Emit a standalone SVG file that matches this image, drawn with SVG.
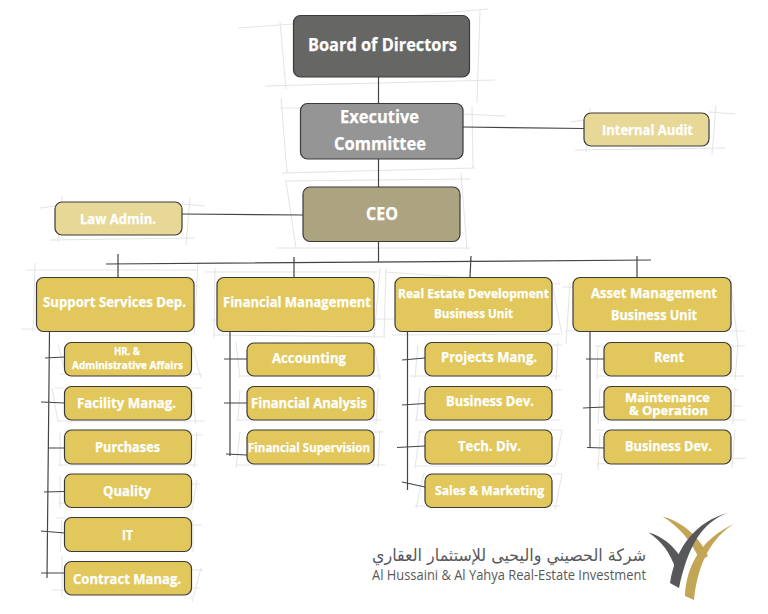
<svg xmlns="http://www.w3.org/2000/svg" width="768" height="614" viewBox="0 0 768 614">
<style>
text{font-family:"Open Sans","Noto Sans",sans-serif;font-weight:700;fill:#fff;stroke:#fff;stroke-width:.25;text-anchor:start}
.b{stroke:#3a3a3a;stroke-width:1.2}
.g{fill:#e2c85c}
.s{fill:none;stroke:#e4e4e4;stroke-width:1}
.c{fill:none;stroke:#444;stroke-width:1.2}
</style>
<rect width="768" height="614" fill="#fff"/>
<g id="sketch-lines" class="s">
<path d="M238 28L293 24M410 16L488 9M280 22L286 89M265 86L495 80M480 10L477 103"/>
<path d="M280 108H300M281 98L287 173M282 173L475 168M472 106L473 168M463 114L505 116"/>
<path d="M285 181L470 179M286 181L296 248M276 248H470M461 173L467 250"/>
<path d="M570 122L584 120M709 112L735 114M590 108L586 152M575 150L725 148M716 105L712 155"/>
<path d="M40 208L55 206M182 204L205 206M62 196L58 242M50 240L195 238M190 198L186 245"/>
<path d="M26 270H197M35 263L33 332M21 329H36M194 335L198 262"/>
<path d="M205 272H378M215 268L214 338M211 320H217M374 338L380 268M214 335L385 337"/>
<path d="M385 272L560 284M386 268L384 338M375 319H395M552 283L562 335M392 335L560 334"/>
<path d="M562 287H618M570 283L566 344M730 275L738 345M565 331H745"/>
<path d="M58 345L66 374M60 374H202M192 346L201 378"/>
<path d="M52 388L58 422M55 388H202M192 390L196 424M58 421H205"/>
<path d="M60 432V466M58 465H198M197 432L194 468M192 435H203"/>
<path d="M60 476V508M58 503H64M197 480L192 510M192 484H200"/>
<path d="M62 520L60 552M56 518H64M193 520V552M192 525H202"/>
<path d="M62 556V597M52 590H64M201 568L192 602M192 588H200M192 570H203"/>
<path d="M236 342L240 378M238 376H380M374 345L380 380"/>
<path d="M240 390L238 420M236 420H382M378 388L376 424"/>
<path d="M240 432L236 468M236 465H385M374 432H384M380 430L378 468"/>
<path d="M418 345L415 378M410 376H560M552 345H562M558 342L556 380"/>
<path d="M420 388L416 422M415 420H560M552 390H562"/>
<path d="M420 430L415 468M416 466H555M420 432L562 430M562 430L555 466"/>
<path d="M424 473L416 508M415 506H560M552 474L562 474L555 510"/>
<path d="M598 345L597 380M595 346H604M732 346H745M738 344L735 380M597 376H745"/>
<path d="M600 388L598 424M600 420H745M732 390H738M732 406H742M735 388L733 424"/>
<path d="M600 432L598 470M596 430H604M735 430L732 468M596 464L746 458"/>
</g>
<g id="connectors" class="c">
<path d="M378.500 77V103M378.500 159V187M378.500 241.500V262"/>
<path d="M463 127L584 128.500M182 214L303 215"/>
<path d="M106 264L651 260M118 254V277.500M294 257V277.500M471 256L470 277.500M637 256V277.500"/>
<path d="M49.500 331L47 578M45 358L64.500 357M41 402L64.500 403M48 448H64.500M44 492L64.500 491.500M41 531L64.500 533M41 573H64.500"/>
<path d="M230 331V456M224 359H247M224 403H247M226 454L247 455"/>
<path d="M407.500 331V490M402 360L425 358M402 405L425 403.500M397 447.500L425 446M402 482L425 487"/>
<path d="M590 331V447.500M586 359H604M583 408L604 407M587 447.500L604 448"/>
</g>
<g id="board"><rect class="b" x="293.500" y="15.500" width="176" height="61.500" rx="7" fill="#666665"/><text x="308" y="51" font-size="18.500" textLength="149" lengthAdjust="spacingAndGlyphs">Board of Directors</text></g>
<g id="executive"><rect class="b" x="300.500" y="103.500" width="162.500" height="55.500" rx="7" fill="#959595"/><text x="340" y="123" font-size="18" textLength="79" lengthAdjust="spacingAndGlyphs">Executive</text><text x="334" y="150" font-size="18" textLength="92" lengthAdjust="spacingAndGlyphs">Committee</text></g>
<g id="ceo"><rect class="b" x="303" y="187" width="157" height="54.500" rx="7" fill="#aca481"/><text x="366" y="220" font-size="17.500" textLength="32" lengthAdjust="spacingAndGlyphs">CEO</text></g>
<g id="internal-audit"><rect class="b" x="584" y="113" width="125" height="33" rx="7" fill="#e8d898"/><text x="602" y="135" font-size="14" textLength="91" lengthAdjust="spacingAndGlyphs">Internal Audit</text></g>
<g id="law-admin"><rect class="b" x="55" y="202" width="127" height="33" rx="7" fill="#e8d898"/><text x="80" y="224" font-size="14" textLength="76" lengthAdjust="spacingAndGlyphs">Law Admin.</text></g>

<g id="support"><rect class="b g" x="36.500" y="277.500" width="157.500" height="54" rx="7"/><text x="43" y="307" font-size="15" textLength="143" lengthAdjust="spacingAndGlyphs">Support Services Dep.</text></g>
<g id="financial"><rect class="b g" x="217" y="277.500" width="157" height="54" rx="7"/><text x="223" y="307" font-size="14.500" textLength="148" lengthAdjust="spacingAndGlyphs">Financial Management</text></g>
<g id="real-estate"><rect class="b g" x="395" y="277.500" width="157" height="54" rx="7"/><text x="398" y="298" font-size="13" textLength="151" lengthAdjust="spacingAndGlyphs">Real Estate Development</text><text x="434" y="318" font-size="13" textLength="79" lengthAdjust="spacingAndGlyphs">Business Unit</text></g>
<g id="asset"><rect class="b g" x="573" y="277.500" width="158" height="54" rx="7"/><text x="591" y="298" font-size="14" textLength="126" lengthAdjust="spacingAndGlyphs">Asset Management</text><text x="611" y="320" font-size="14" textLength="86" lengthAdjust="spacingAndGlyphs">Business Unit</text></g>

<g id="hr"><rect class="b g" x="64.500" y="342.500" width="127" height="33.500" rx="7"/><text x="114" y="355" font-size="10" textLength="26" lengthAdjust="spacingAndGlyphs">HR. &amp;</text><text x="72" y="369" font-size="10" textLength="111" lengthAdjust="spacingAndGlyphs">Administrative Affairs</text></g>
<g id="facility"><rect class="b g" x="64.500" y="386.500" width="127" height="33.500" rx="7"/><text x="77" y="408" font-size="14.500" textLength="99" lengthAdjust="spacingAndGlyphs">Facility Manag.</text></g>
<g id="purchases"><rect class="b g" x="64.500" y="430" width="127" height="34" rx="7"/><text x="95" y="452" font-size="14.500" textLength="65" lengthAdjust="spacingAndGlyphs">Purchases</text></g>
<g id="quality"><rect class="b g" x="64.500" y="474" width="127" height="33.500" rx="7"/><text x="103" y="496" font-size="14.500" textLength="48" lengthAdjust="spacingAndGlyphs">Quality</text></g>
<g id="it"><rect class="b g" x="64.500" y="517.500" width="127" height="34" rx="7"/><text x="122" y="540" font-size="14.500" textLength="11" lengthAdjust="spacingAndGlyphs">IT</text></g>
<g id="contract"><rect class="b g" x="64.500" y="561.500" width="127" height="33.500" rx="7"/><text x="73" y="584" font-size="14.500" textLength="108" lengthAdjust="spacingAndGlyphs">Contract Manag.</text></g>

<g id="accounting"><rect class="b g" x="247" y="343" width="127" height="33" rx="7"/><text x="272" y="363" font-size="14.500" textLength="74" lengthAdjust="spacingAndGlyphs">Accounting</text></g>
<g id="analysis"><rect class="b g" x="247" y="386.500" width="127" height="33.500" rx="7"/><text x="251" y="408" font-size="14" textLength="116" lengthAdjust="spacingAndGlyphs">Financial Analysis</text></g>
<g id="supervision"><rect class="b g" x="247" y="430" width="127" height="34" rx="7"/><text x="248" y="452" font-size="12.500" textLength="122" lengthAdjust="spacingAndGlyphs">Financial Supervision</text></g>

<g id="projects"><rect class="b g" x="425" y="342.500" width="127" height="33.500" rx="7"/><text x="441" y="362" font-size="14.500" textLength="96" lengthAdjust="spacingAndGlyphs">Projects Mang.</text></g>
<g id="re-business-dev"><rect class="b g" x="425" y="386.500" width="127" height="33.500" rx="7"/><text x="446" y="406" font-size="14.500" textLength="88" lengthAdjust="spacingAndGlyphs">Business Dev.</text></g>
<g id="tech"><rect class="b g" x="425" y="430" width="127" height="34" rx="7"/><text x="458" y="451" font-size="14.500" textLength="63" lengthAdjust="spacingAndGlyphs">Tech. Div.</text></g>
<g id="sales"><rect class="b g" x="425" y="474" width="127" height="33.500" rx="7"/><text x="435" y="495" font-size="13" textLength="109" lengthAdjust="spacingAndGlyphs">Sales &amp; Marketing</text></g>

<g id="rent"><rect class="b g" x="604" y="342.500" width="127" height="33.500" rx="7"/><text x="654" y="362" font-size="14.500" textLength="30" lengthAdjust="spacingAndGlyphs">Rent</text></g>
<g id="maintenance"><rect class="b g" x="604" y="386.500" width="127" height="33.500" rx="7"/><text x="625" y="402" font-size="13" textLength="85" lengthAdjust="spacingAndGlyphs">Maintenance</text><text x="629" y="414.500" font-size="13" textLength="79" lengthAdjust="spacingAndGlyphs">&amp; Operation</text></g>
<g id="asset-business-dev"><rect class="b g" x="604" y="430" width="127" height="34" rx="7"/><text x="625" y="451" font-size="14.500" textLength="87" lengthAdjust="spacingAndGlyphs">Business Dev.</text></g>

<g id="logo">
<path d="M662.500 516.500C680 521 698 534 708 556L700 561C692 541 678 526 662.500 516.500Z" fill="#c3a655"/>
<path d="M734 524C714 536 698 560 694 600L685 596C686 566 702 538 734 524Z" fill="#c3a655"/>
<path d="M728.500 512.500C702 522 688 546 679 588L670 583C676 546 696 522 728.500 512.500Z" fill="#58585a"/>
<path d="M648.500 532.500C662 536 674 546 681 558L676 570C670 552 662 542 648.500 532.500Z" fill="#58585a"/>
<text x="646" y="561" font-size="17" direction="rtl" textLength="274" lengthAdjust="spacingAndGlyphs" style="font-family:'DejaVu Sans',sans-serif;font-weight:400;fill:#58585a;stroke:none">شركة الحصيني واليحيى للإستثمار العقاري</text>
<text x="372" y="580" font-size="14.500" textLength="274" lengthAdjust="spacingAndGlyphs" style="font-family:'Open Sans',sans-serif;font-weight:400;fill:#58585a;stroke:none">Al Hussaini &amp; Al Yahya Real-Estate Investment</text>
</g>
</svg>
